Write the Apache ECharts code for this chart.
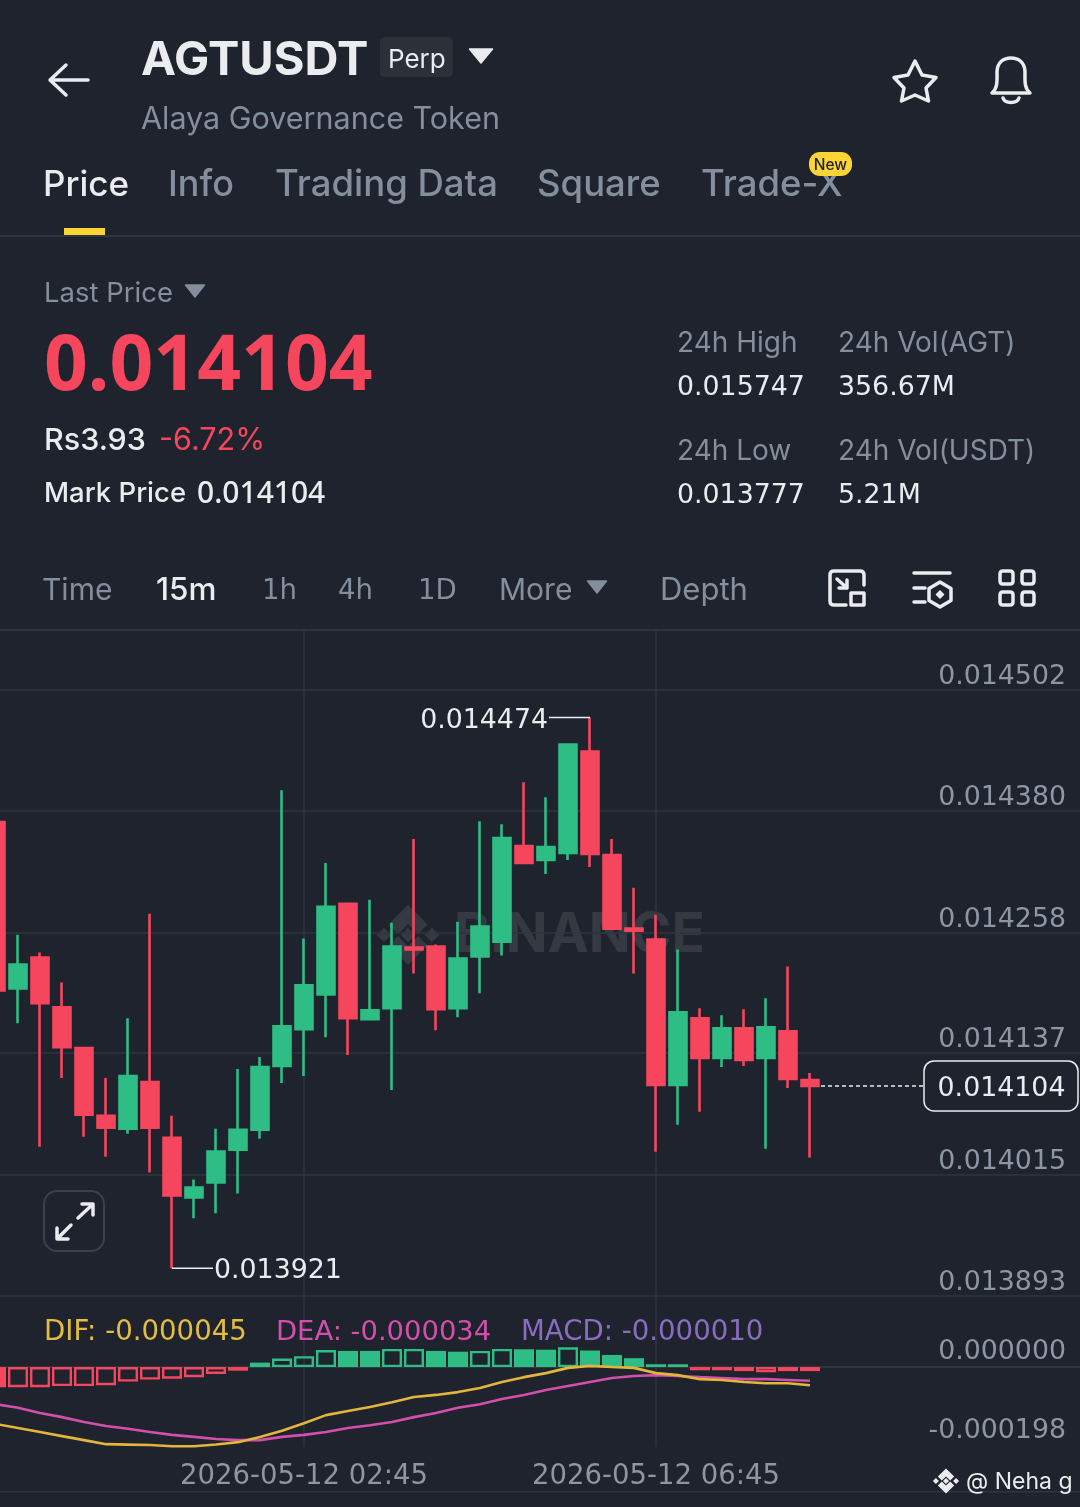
<!DOCTYPE html>
<html>
<head>
<meta charset="utf-8">
<style>html,body{margin:0;padding:0;background:#1e232d}#c{width:1080px;height:1507px}</style>
<script src="https://cdn.jsdelivr.net/npm/echarts@6/dist/echarts.min.js"></script>
</head>
<body>
<div id="c"></div>
<script>
const categories = ['05-11 23:15','05-11 23:30','05-11 23:45','05-12 00:00','05-12 00:15','05-12 00:30','05-12 00:45','05-12 01:00','05-12 01:15','05-12 01:30','05-12 01:45','05-12 02:00','05-12 02:15','05-12 02:30','2026-05-12 02:45','05-12 03:00','05-12 03:15','05-12 03:30','05-12 03:45','05-12 04:00','05-12 04:15','05-12 04:30','05-12 04:45','05-12 05:00','05-12 05:15','05-12 05:30','05-12 05:45','05-12 06:00','05-12 06:15','05-12 06:30','2026-05-12 06:45','05-12 07:00','05-12 07:15','05-12 07:30','05-12 07:45','05-12 08:00','05-12 08:15','05-12 08:30','05-12 08:45','05-12 09:00','05-12 09:15','05-12 09:30','05-12 09:45','05-12 10:00','05-12 10:15','05-12 10:30','05-12 10:45','05-12 11:00','05-12 11:15','05-12 11:30'];
const labelledTimes = [14, 30];
const opens = [0.014369,0.014202,0.014233,0.014183,0.014142,0.014074,0.014061,0.014108,0.014052,0.013992,0.014007,0.014040,0.014060,0.014124,0.014161,0.014196,0.014287,0.014171,0.014182,0.014243,0.014244,0.014182,0.014234,0.014249,0.014345,0.014331,0.014338,0.014440,0.014336,0.014262,0.014251,0.014105,0.014172,0.014132,0.014162,0.014132,0.014159,0.014110];
const closes = [0.014200,0.014226,0.014187,0.014143,0.014075,0.014062,0.014114,0.014062,0.013994,0.014002,0.014038,0.014060,0.014123,0.014164,0.014205,0.014284,0.014172,0.014180,0.014244,0.014241,0.014181,0.014232,0.014264,0.014353,0.014328,0.014344,0.014447,0.014337,0.014262,0.014260,0.014105,0.014178,0.014132,0.014162,0.014130,0.014163,0.014111,0.014104];
const lows = [0.014200,0.014167,0.014043,0.014112,0.014053,0.014033,0.014056,0.014017,0.013921,0.013971,0.013976,0.013996,0.014051,0.014107,0.014114,0.014153,0.014135,0.014171,0.014100,0.014217,0.014160,0.014173,0.014197,0.014235,0.014328,0.014317,0.014331,0.014324,0.014262,0.014217,0.014038,0.014065,0.014078,0.014123,0.014124,0.014041,0.014102,0.014032];
const highs = [0.014369,0.014256,0.014238,0.014208,0.014142,0.014112,0.014172,0.014277,0.014074,0.014010,0.014061,0.014121,0.014133,0.014401,0.014252,0.014328,0.014288,0.014291,0.014268,0.014352,0.014246,0.014269,0.014370,0.014367,0.014409,0.014394,0.014447,0.014474,0.014352,0.014303,0.014276,0.014241,0.014182,0.014175,0.014181,0.014192,0.014224,0.014117];
const macd = [-0.000050,-0.000050,-0.000050,-0.000047,-0.000047,-0.000045,-0.000036,-0.000031,-0.000029,-0.000025,-0.000017,-0.000009,0.000011,0.000021,0.000027,0.000042,0.000040,0.000040,0.000045,0.000045,0.000040,0.000038,0.000040,0.000045,0.000044,0.000043,0.000049,0.000041,0.000030,0.000022,0.000007,0.000007,-0.000008,-0.000008,-0.000010,-0.000013,-0.000010,-0.000010];
const macdHollow = [0,1,1,1,1,1,1,1,1,1,1,0,0,1,1,1,0,0,1,1,0,0,1,1,0,0,1,0,0,0,0,0,0,0,0,1,0,0];
const dif = [-0.000141,-0.000151,-0.000161,-0.000171,-0.000181,-0.000191,-0.000192,-0.000193,-0.000196,-0.000196,-0.000192,-0.000186,-0.000173,-0.000158,-0.000139,-0.000119,-0.000109,-0.000099,-0.000087,-0.000074,-0.000069,-0.000062,-0.000052,-0.000037,-0.000025,-0.000015,-0.000002,0.000003,0.000000,-0.000002,-0.000015,-0.000020,-0.000030,-0.000032,-0.000037,-0.000040,-0.000040,-0.000045];
const dea = [-0.000092,-0.000101,-0.000114,-0.000124,-0.000136,-0.000146,-0.000153,-0.000161,-0.000168,-0.000173,-0.000178,-0.000181,-0.000181,-0.000173,-0.000168,-0.000161,-0.000151,-0.000144,-0.000136,-0.000124,-0.000114,-0.000101,-0.000092,-0.000079,-0.000069,-0.000057,-0.000047,-0.000037,-0.000027,-0.000022,-0.000020,-0.000022,-0.000025,-0.000027,-0.000030,-0.000030,-0.000032,-0.000034];
const priceTicks = [0.013893,0.014015,0.014137,0.014258,0.014380,0.014502];
const macdTicks = [-0.000198,0.000000];
const priceMin = 0.013893, priceMax = 0.014562;
const macdMin = -0.000198, macdMax = 0.000176;
const extremes = [[27,0.014474,-1],[8,0.013921,1]];
const lastPrice = [[37,0.014104]];

const BG='#1e232d', GRID='#2f3540', GRAY='#848e9c', LABEL='#8d96a3', WHITE='#eaecef', UP='#2ebd85', DOWN='#f6465d';
const FONT='Inter, "Noto Sans", sans-serif', NUM='"DejaVu Sans", sans-serif', NOTO='"Noto Sans", sans-serif';
let pid=0;
const svgShape=(d)=>{const name='svgicon'+(pid++);echarts.graphic.registerShape(name,echarts.graphic.extendPath(d,{}));return name;};
const t=(x,y,text,size,fill,weight,align,font)=>({type:'text',x,y,z:10,style:{text,fontSize:size,fill,fontFamily:font||FONT,fontWeight:weight||400,align:align||'left',verticalAlign:'middle'}});
const p=(d,o)=>({type:svgShape(d),z:10,style:Object.assign({fill:'none',stroke:WHITE,lineWidth:3.5,lineCap:'round',lineJoin:'round'},o||{})});
const hr=(y,h)=>({type:'rect',z:1,shape:{x:0,y:y,width:1080,height:h||2},style:{fill:GRID}});
const tri=(cx,cy,w,h,fill)=>p(`M${cx-w/2} ${cy-h/2}L${cx+w/2} ${cy-h/2}L${cx} ${cy+h/2}Z`,{fill:fill,stroke:fill,lineWidth:1.5});
function logo(cx,cy,s,fill,z){
  const P=(a)=>'M'+a.map(q=>(cx+q[0]*s)+' '+(cy+q[1]*s)).join('L')+'Z';
  const d=(x,y,r)=>P([[x,y-r],[x+r,y],[x,y+r],[x-r,y]]);
  const up=P([[0,-3],[1.95,-1.05],[1,-0.1],[0,-1.1],[-1,-0.1],[-1.95,-1.05]]);
  const dn=P([[0,3],[1.95,1.05],[1,0.1],[0,1.1],[-1,0.1],[-1.95,1.05]]);
  return {type:svgShape(up+dn+d(0,0,.72)+d(-2.4,0,.72)+d(2.4,0,.72)),z:z,style:{fill:fill}};
}
const elements=[
  {type:'rect',z:-2,shape:{x:0,y:0,width:1080,height:1507},style:{fill:BG}},
  hr(235),hr(629,2),hr(1491,1.5),
  logo(408,935,10,'rgba(255,255,255,0.10)',-1),
  {type:'text',z:-1,x:454,y:935,style:{text:'BINANCE',fontSize:55,fontWeight:700,fontFamily:FONT,fill:'rgba(255,255,255,0.10)',verticalAlign:'middle'}},
  p('M88 80H50M66 65L50 80L66 95'),
  t(141,61,'AGTUSDT',47,WHITE,700),
  {type:'rect',z:9,shape:{x:380,y:37,width:73,height:40,r:5},style:{fill:'#2b3139'}},
  t(388,60,'Perp',26,WHITE,400),
  tri(481,56,23,14,WHITE),
  t(141,120,'Alaya Governance Token',30.5,GRAY),
  p('M915 61L922 75L936 77.5L926 88L928.5 101L915 95L901.5 101L904 88L894 77.5L908 75Z'),
  p('M992 93C998 88 997 80 997 72C997 62 1004 58 1011 58C1018 58 1025 62 1025 72C1025 80 1024 88 1030 93ZM1003 98C1005 104 1017 104 1019 98'),
  t(43,185,'Price',35,WHITE,500),
  t(168,185,'Info',36,GRAY,500),
  t(275,185,'Trading Data',36.5,GRAY,500),
  t(537,185,'Square',36.5,GRAY,500),
  t(701,185,'Trade-X',36.5,GRAY,500),
  {type:'rect',z:11,shape:{x:809,y:152,width:43,height:24,r:11},style:{fill:'#fcd535'}},
  Object.assign(t(830.5,165,'New',15.5,'#1e2329',500,'center'),{z:12}),
  {type:'rect',z:10,shape:{x:64,y:228,width:41,height:7},style:{fill:'#fcd535'}},
  t(44,294,'Last Price',27.5,GRAY),
  tri(195,291,19,12,GRAY),
  t(44,368,'0.014104',76.7,DOWN,700,'left',NOTO),
  t(44,441,'Rs3.93',30.5,WHITE,500),
  t(159,441,'-6.72%',30.5,DOWN),
  t(44,494,'Mark Price',27.5,WHITE,500),
  t(197,494,'0.014104',30,WHITE,500,'left',NOTO),
  t(677,344,'24h High',28,GRAY),
  t(838,344,'24h Vol(AGT)',28,GRAY),
  t(677,388,'0.015747',26.8,WHITE,400,'left',NUM),
  t(838,388,'356.67M',26.8,WHITE,400,'left',NUM),
  t(677,452,'24h Low',28,GRAY),
  t(838,452,'24h Vol(USDT)',28,GRAY),
  t(677,496,'0.013777',26.8,WHITE,400,'left',NUM),
  t(838,496,'5.21M',26.8,WHITE,400,'left',NUM),
  t(42,591,'Time',30,GRAY),
  t(156,591,'15m',31.5,WHITE,500),
  t(262,592,'1h',27.5,GRAY,400,'left',NUM),
  t(338,592,'4h',27.5,GRAY,400,'left',NUM),
  t(418,592,'1D',27.5,GRAY,400,'left',NUM),
  t(499,591,'More',30,GRAY),
  tri(597,587,19,12,GRAY),
  t(660,591,'Depth',31,GRAY),
  p('M846 605H834Q830 605 830 601V575Q830 571 834 571H860Q864 571 864 575V585M851 593H864V605H851ZM837 579L847 588M847 580V588H839'),
  p('M914 573H950M914 588H925M914 602H925M940 582L951 588.5V600.5L940 607L929 600.5V588.5Z'),
  p('M940 591L943.5 594.5L940 598L936.5 594.5Z',{fill:WHITE,lineWidth:1.5}),
  p('M1003 571H1010Q1013 571 1013 574V581Q1013 584 1010 584H1003Q1000 584 1000 581V574Q1000 571 1003 571ZM1025 571H1031Q1034 571 1034 574V581Q1034 584 1031 584H1025Q1022 584 1022 581V574Q1022 571 1025 571ZM1003 592H1010Q1013 592 1013 595V602Q1013 605 1010 605H1003Q1000 605 1000 602V595Q1000 592 1003 592ZM1025 592H1031Q1034 592 1034 595V602Q1034 605 1031 605H1025Q1022 605 1022 602V595Q1022 592 1025 592Z'),
  {type:'rect',z:10,shape:{x:44,y:1191,width:60,height:60,r:13},style:{fill:BG,stroke:'#3a404c',lineWidth:2}},
  p('M78 1218L92 1205M82 1204H93V1215M71 1225L58 1238M57 1228V1239H68'),
  t(44,1333,'DIF: -0.000045',27.6,'#e3bd41',400,'left',NUM),
  t(276,1333,'DEA: -0.000034',27.4,'#d24fac',400,'left',NUM),
  t(521,1333,'MACD: -0.000010',27.6,'#8a6cc0',400,'left',NUM),
  logo(946,1481,4.2,WHITE,10),
  t(966,1482,'@ Neha g',23,WHITE)
];

const showTime=(i)=>labelledTimes.indexOf(i)>=0;
const grids=[{left:-15,top:630,width:1100,height:666,outerBoundsMode:'none',containLabel:false},{left:-15,top:1296,width:1100,height:151,outerBoundsMode:'none',containLabel:false}];
const xAxis=[0,1].map(i=>({
  type:'category',gridIndex:i,data:categories,boundaryGap:true,
  axisLine:{show:i===1,lineStyle:{color:GRID,width:2}},
  axisTick:{show:false,alignWithLabel:true,interval:(n)=>showTime(n)},
  splitLine:{show:true,alignWithLabel:true,interval:(n)=>showTime(n),lineStyle:{color:GRID,width:1.5}},
  axisLabel:{show:i===1,interval:(n)=>showTime(n),margin:16,fontSize:27.5,color:LABEL,fontFamily:NUM,lineHeight:28,hideOverlap:false}
}));
const yLabel=(vals,lh)=>({inside:true,customValues:vals,margin:19,fontSize:26.8,color:LABEL,fontFamily:NUM,verticalAlign:'bottom',lineHeight:lh,formatter:(v)=>Number(v).toFixed(6),showMinLabel:true,showMaxLabel:true,hideOverlap:false});
const yAxis=[
  {type:'value',gridIndex:0,position:'right',min:priceMin,max:priceMax,scale:true,axisLine:{show:false},axisTick:{show:false,customValues:priceTicks},axisLabel:yLabel(priceTicks,26),splitLine:{show:true,lineStyle:{color:GRID,width:1.5}}},
  {type:'value',gridIndex:1,position:'right',min:macdMin,max:macdMax,scale:true,axisLine:{show:false},axisTick:{show:false,customValues:macdTicks},axisLabel:yLabel(macdTicks,31),splitLine:{show:false}}
];
const series=[
  {type:'candlestick',name:'Price',xAxisIndex:0,yAxisIndex:0,barWidth:17.4,clip:true,
   data:opens.map((o,i)=>[o,closes[i],lows[i],highs[i]]),
   itemStyle:{color:UP,color0:DOWN,borderColor:UP,borderColor0:DOWN,borderColorDoji:DOWN,borderWidth:2.6}},
  {type:'custom',name:'Extremes',xAxisIndex:0,yAxisIndex:0,clip:false,z:5,data:extremes,encode:{x:0,y:1},
   renderItem:(params,api)=>{
     const c=api.coord([api.value(0),api.value(1)]), dir=api.value(2);
     return {type:'group',children:[
       {type:'line',shape:{x1:c[0],y1:c[1],x2:c[0]+dir*41,y2:c[1]},style:{stroke:WHITE,lineWidth:1.5}},
       {type:'text',x:c[0]+dir*42,y:c[1]+3,style:{text:api.value(1).toFixed(6),fontSize:26.8,fontFamily:NUM,fill:WHITE,align:dir<0?'right':'left',verticalAlign:'middle'}}
     ]};
   }},
  {type:'custom',name:'Last',xAxisIndex:0,yAxisIndex:0,clip:false,z:5,data:lastPrice,encode:{x:0,y:1},
   renderItem:(params,api)=>{
     const c=api.coord([api.value(0),api.value(1)]);
     return {type:'group',children:[
       {type:'line',shape:{x1:c[0]+11,y1:c[1],x2:924,y2:c[1]},style:{stroke:WHITE,lineWidth:1.5,lineDash:[4,3]}},
       {type:'rect',shape:{x:924,y:c[1]-25,width:154,height:50,r:10},style:{fill:BG,stroke:WHITE,lineWidth:1.5}},
       {type:'text',x:1001.5,y:c[1]+3,style:{text:api.value(1).toFixed(6),fontSize:26.8,fontFamily:NUM,fill:WHITE,align:'center',verticalAlign:'middle'}}
     ]};
   }},
  {type:'bar',name:'MACD',xAxisIndex:1,yAxisIndex:1,barWidth:20,
   data:macd.map((v,i)=>{
     const col=v>=0?UP:DOWN;
     return {value:v,itemStyle:macdHollow[i]?{color:'rgba(0,0,0,0)',borderColor:col,borderWidth:2.4}:{color:col}};
   })},
  {type:'line',name:'DEA',xAxisIndex:1,yAxisIndex:1,data:dea,symbol:'none',smooth:false,lineStyle:{color:'#d24fac',width:2.6},z:4},
  {type:'line',name:'DIF',xAxisIndex:1,yAxisIndex:1,data:dif,symbol:'none',smooth:false,lineStyle:{color:'#e3b53b',width:2.6},z:4}
];
const chart=echarts.init(document.getElementById('c'),null,{renderer:'canvas',width:1080,height:1507});
chart.setOption({animation:false,backgroundColor:BG,grid:grids,xAxis,yAxis,series,graphic:{elements}});
</script>
</body>
</html>
